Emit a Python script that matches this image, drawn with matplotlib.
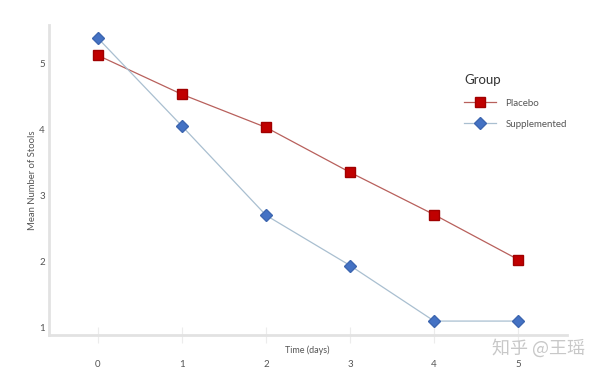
import matplotlib.pyplot as plt

days = [0, 1, 2, 3, 4, 5]
placebo = [5.12, 4.53, 4.03, 3.35, 2.71, 2.03]
supplemented = [5.38, 4.05, 2.70, 1.94, 1.10, 1.10]
y_ticks = [1, 2, 3, 4, 5]

plt.rcParams['font.family'] = ['Lato', 'Noto Sans CJK SC', 'DejaVu Sans']

fig = plt.figure(figsize=(6, 3.73), dpi=100)
ax = fig.add_axes([0.082, 0.102, 0.863, 0.831])

ax.plot(days, placebo, color='#b8605c', linewidth=0.9, marker='s', markersize=7,
        markerfacecolor='#c00000', markeredgecolor='#a00000', label='Placebo', zorder=3)
ax.plot(days, supplemented, color='#a9bfd0', linewidth=0.9, marker='D', markersize=6,
        markerfacecolor='#4472c4', markeredgecolor='#3d66b0', label='Supplemented', zorder=3)

ax.set_xlim(-0.58, 5.58)
ax.set_ylim(0.89, 5.58)
ax.set_xticks(days)
ax.set_yticks(y_ticks)

for s in ['top', 'right']:
    ax.spines[s].set_visible(False)
for s in ['left', 'bottom']:
    ax.spines[s].set_color('#e2e2e2')
    ax.spines[s].set_linewidth(2)

ax.tick_params(axis='y', length=0, pad=3, labelsize=7, labelcolor='#555555')
ax.tick_params(axis='x', direction='inout', length=12, width=0.8, color='#ececec',
               pad=12, labelsize=7, labelcolor='#555555')

ax.set_ylabel('Mean Number of Stools', fontsize=6.8, color='#555555', labelpad=2)
ax.text(0.498, -0.05, 'Time (days)', transform=ax.transAxes, fontsize=6.5,
        color='#555555', ha='center', va='center')

leg = ax.legend(title='Group', loc='upper left', bbox_to_anchor=(0.785, 0.87),
                frameon=False, fontsize=7, title_fontsize=9.5, handlelength=3.2,
                labelspacing=1.25, handletextpad=1.0)
leg._legend_box.align = 'left'
leg._legend_box.sep = 9
for t in leg.get_texts():
    t.set_color('#555555')
leg.get_title().set_color('#333333')

fig.text(0.975, 0.065, '知乎 @王瑶', fontsize=13, color='#c8c8c8', ha='right', va='center',
         family=['Noto Sans CJK SC', 'DejaVu Sans'])

fig.savefig('out.png', dpi=100)
